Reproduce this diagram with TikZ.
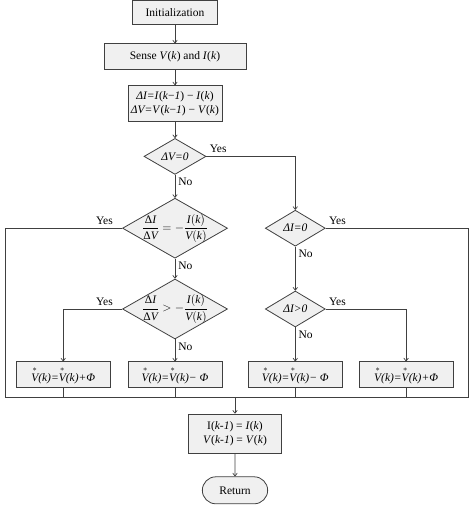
\documentclass[tikz,border=0pt]{standalone}
\usepackage{amsmath}
\usepackage{fontspec}
\setmainfont{Liberation Serif}
\usepackage{tikz}
\usetikzlibrary{positioning,shapes.geometric,shapes.misc,arrows.meta}
\tikzstyle{flow_edge}=[-{To[length=3.5pt,width=5pt]}, draw=black!75, line width=0.7pt]
\tikzstyle{plain_edge}=[-, draw=black!75, line width=0.7pt]
\tikzstyle{proc}=[rectangle, draw=black!75, fill=black!6, line width=0.8pt, align=center, inner sep=1pt]
\tikzstyle{dec}=[diamond, draw=black!75, fill=black!6, line width=0.8pt, inner sep=0pt]
\tikzstyle{term}=[rounded rectangle, draw=black!75, fill=black!6, line width=0.8pt]
\tikzstyle{lbl}=[inner sep=3pt]
\newcommand{\vst}{\ensuremath{\overset{*}{\textit{V}}}}

\begin{document}
\begin{tikzpicture}[x=1pt, y=-1pt, font=\fontsize{11.5}{13.5}\selectfont]
        \useasboundingbox (0,0) rectangle (474,506);
        \node [proc, minimum width=85pt, minimum height=23.5pt] (0) at (175,12.25) {Initialization};
        \node [proc, minimum width=142pt, minimum height=26pt, below=19pt of 0] (1) {Sense \textit{V}(\textit{k}) and \textit{I}(\textit{k})};
        \node [proc, minimum width=94pt, minimum height=36pt, below=15pt of 1] (2) {\textit{ΔI=I}(\textit{k}−\textit{1}) − \textit{I}(\textit{k})\\ \textit{ΔV=V}(\textit{k}−\textit{1}) − \textit{V}(\textit{k})};
        \node [dec, minimum width=62pt, minimum height=36pt, below=16pt of 2] (3) {\textit{ΔV=0}};
        \node [dec, minimum width=105pt, minimum height=60pt, below=23pt of 3, label=center:{$\dfrac{\text{Δ}\textit{I}}{\text{Δ}\textit{V}}=-\dfrac{\textit{I}(\textit{k})}{\textit{V}(\textit{k})}$}] (4) {};
        \node [dec, minimum width=60pt, minimum height=36pt, right=37pt of 4] (5) {\textit{ΔI=0}};
        \node [dec, minimum width=105pt, minimum height=60pt, below=20pt of 4, label=center:{$\dfrac{\text{Δ}\textit{I}}{\text{Δ}\textit{V}}>-\dfrac{\textit{I}(\textit{k})}{\textit{V}(\textit{k})}$}] (6) {};
        \node [dec, minimum width=60pt, minimum height=36pt, below=44pt of 5] (7) {\textit{ΔI>0}};
        \node [proc, minimum width=94pt, minimum height=26pt, below=22pt of 6] (9) {\textit{\vst(k)=\vst(k)− Φ}};
        \node [proc, minimum width=94pt, minimum height=26pt, left=17pt of 9] (8) {\textit{\vst(k)=\vst(k)+Φ}};
        \node [proc, minimum width=94pt, minimum height=26pt, below=34pt of 7] (10) {\textit{\vst(k)=\vst(k)− Φ}};
        \node [proc, minimum width=94pt, minimum height=26pt, right=16pt of 10] (11) {\textit{\vst(k)=\vst(k)+Φ}};
        \node [proc, minimum width=93pt, minimum height=39pt] (12) at (235,433.5) {I(\textit{k-1}) = \textit{I}(\textit{k})\\ \textit{V}(\textit{k-1}) = \textit{V}(\textit{k})};
        \node [term, minimum width=72pt, minimum height=27pt, below=23pt of 12] (13) {Return};
        \coordinate (bl) at (5,397);
        \coordinate (br) at (468,397);
        \draw[style={flow_edge}] (0) to (1);
        \draw[style={flow_edge}] (1) to (2);
        \draw[style={flow_edge}] (2) to (3);
        \draw[style={flow_edge}] (3) -- (4) node[lbl, at start, below right] {No};
        \draw[style={flow_edge}] (3.east) -| (5) node[lbl, at start, above right] {Yes};
        \draw[style={flow_edge}] (4) -- (6) node[lbl, at start, below right] {No};
        \draw[style={flow_edge}] (5) -- (7) node[lbl, at start, below right] {No};
        \draw[style={flow_edge}] (6) -- (9) node[lbl, at start, below right] {No};
        \draw[style={flow_edge}] (7) -- (10) node[lbl, at start, below right] {No};
        \draw[style={flow_edge}] (6.west) -| (8) node[lbl, at start, above left, xshift=-6pt] {Yes};
        \draw[style={flow_edge}] (7.east) -| (11) node[lbl, at start, above right] {Yes};
        \draw[style={plain_edge}] (4.west) node[lbl, above left, xshift=-6pt] {Yes} -| (bl) -- (br) |- (5.east) node[lbl, above right] {Yes};
        \foreach \n in {8,9,10,11}
            \draw[style={plain_edge}] (\n) -- (\n.south |- bl);
        \draw[style={flow_edge}] (12.north |- bl) -- (12);
        \draw[style={flow_edge}] (12) -- (13);
    \end{tikzpicture}
\end{document}
